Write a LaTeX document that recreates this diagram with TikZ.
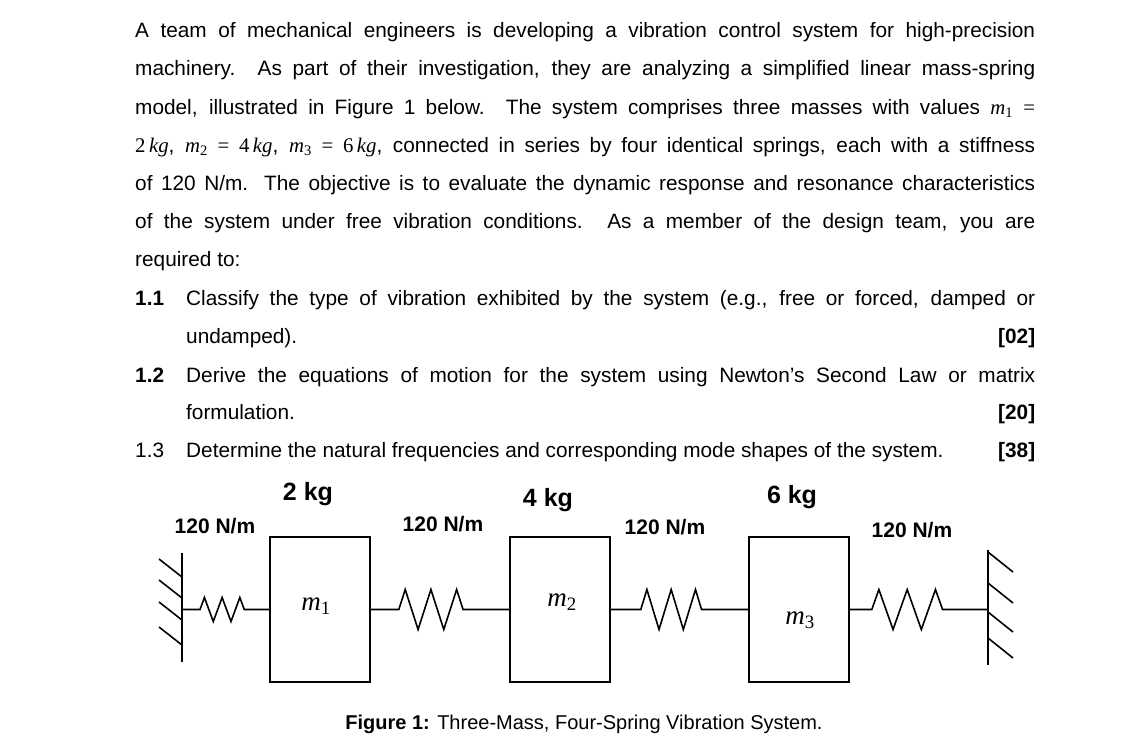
\documentclass[tikz,border=0pt]{standalone}
\usepackage{fontspec}
\setmainfont{Liberation Sans}
\newfontfamily\mfont{Liberation Serif}
\usetikzlibrary{decorations.pathmorphing}
\newcommand{\mv}[2]{{\mfont\itshape #1}\textsubscript{\mfont #2}}
\newcommand{\mkg}[1]{{\mfont #1\,\itshape kg}}
\begin{document}
\begin{tikzpicture}[x=1pt,y=-1pt,
  txt/.style={anchor=base west,inner sep=0pt,font=\fontsize{20.8}{25}\selectfont},
  lab/.style={inner sep=0pt,font=\fontsize{21}{25}\selectfont\bfseries},
  kg/.style={inner sep=0pt,font=\fontsize{25}{30}\selectfont\bfseries},
  mass/.style={draw,line width=1.6pt,minimum width=100pt,minimum height=145pt,inner sep=0pt},
  wall/.style={line width=1.6pt}]
\useasboundingbox (0,0) rectangle (1147,742);
\newcommand{\jl}[1]{\makebox[900pt][s]{#1}}
\newcommand{\il}[1]{\makebox[849pt][s]{#1}}
\node[txt] (l1) at (135,37) {\jl{A team of mechanical engineers is developing a vibration control system for high-precision}};
\node[txt] (l2) at (135,75) {\jl{machinery. As part of their investigation, they are analyzing a simplified linear mass-spring}};
\node[txt] (l3) at (135,114) {\jl{model, illustrated in Figure 1 below. The system comprises three masses with values \mv{m}{1} {\mfont =}}};
\node[txt] (l4) at (135,152) {\jl{\mkg{2}, \mv{m}{2} {\mfont =} \mkg{4}, \mv{m}{3} {\mfont =} \mkg{6}, connected in series by four identical springs, each with a stiffness}};
\node[txt] (l5) at (135,190) {\jl{of 120 N/m. The objective is to evaluate the dynamic response and resonance characteristics}};
\node[txt] (l6) at (135,228) {\jl{of the system under free vibration conditions. As a member of the design team, you are}};
\node[txt] (l7) at (135,266) {required to:};
\node[txt] (n1) at (135,305) {\textbf{1.1}};
\node[txt] (i1a) at (186,305) {\il{Classify the type of vibration exhibited by the system (e.g., free or forced, damped or}};
\node[txt] (i1b) at (186,343) {\il{undamped).\hfill\textbf{[02]}}};
\node[txt] (n2) at (135,382) {\textbf{1.2}};
\node[txt] (i2a) at (186,382) {\il{Derive the equations of motion for the system using Newton’s Second Law or matrix}};
\node[txt] (i2b) at (186,419) {\il{formulation.\hfill\textbf{[20]}}};
\node[txt] (n3) at (135,457) {1.3};
\node[txt] (i3) at (186,457) {\il{Determine the natural frequencies and corresponding mode shapes of the system.\hfill\textbf{[38]}}};
% masses
\node[mass] (m1) at (320,609.5) {};
\node[mass] (m2) at (560,609.5) {};
\node[mass] (m3) at (799,609.5) {};
\node[font=\fontsize{27}{30}\selectfont] (t1) at (316,606) {\mv{m}{1}};
\node[font=\fontsize{27}{30}\selectfont] (t2) at (562,602) {\mv{m}{2}};
\node[font=\fontsize{27}{30}\selectfont] (t3) at (800,620) {\mv{m}{3}};
\node[kg] (k1) at (308,494) {2 kg};
\node[kg] (k2) at (548,500) {4 kg};
\node[kg] (k3) at (792,497) {6 kg};
\node[lab] (s1) at (215,526) {120 N/m};
\node[lab] (s2) at (443,524) {120 N/m};
\node[lab] (s3) at (665,527) {120 N/m};
\node[lab] (s4) at (912,530) {120 N/m};
% walls
\coordinate (wl) at (182,609.5);
\coordinate (wr) at (988,609.5);
\draw[wall] (182,553) -- (182,662);
\foreach \y in {577,598,620,645} \draw[wall] (182,\y) -- (159,\y-18);
\draw[wall] (988,550) -- (988,665);
\foreach \y in {552,583,612,638} \draw[wall] (988,\y) -- (1013,\y+20);
% springs
\draw[line width=1.6pt] (wl) -- ++(18,0) decorate[decoration={zigzag,amplitude=12pt,segment length=17.7pt}]{-- (m1.west -| 253,0)} -- (m1.west);
\draw[line width=1.6pt] (m1.east) -- ++(28,0) decorate[decoration={zigzag,amplitude=20pt,segment length=25.7pt}]{-- (m2.west -| 475,0)} -- (m2.west);
\draw[line width=1.6pt] (m2.east) -- ++(30,0) decorate[decoration={zigzag,amplitude=20pt,segment length=24.3pt}]{-- (m3.west -| 713,0)} -- (m3.west);
\draw[line width=1.6pt] (m3.east) -- ++(22,0) decorate[decoration={zigzag,amplitude=20pt,segment length=28.3pt}]{-- (wr -| 955,0)} -- (wr);
\node[font=\fontsize{20}{24}\selectfont] (cap) at (584,724) {\textbf{Figure 1:} Three-Mass, Four-Spring Vibration System.};
\end{tikzpicture}
\end{document}
